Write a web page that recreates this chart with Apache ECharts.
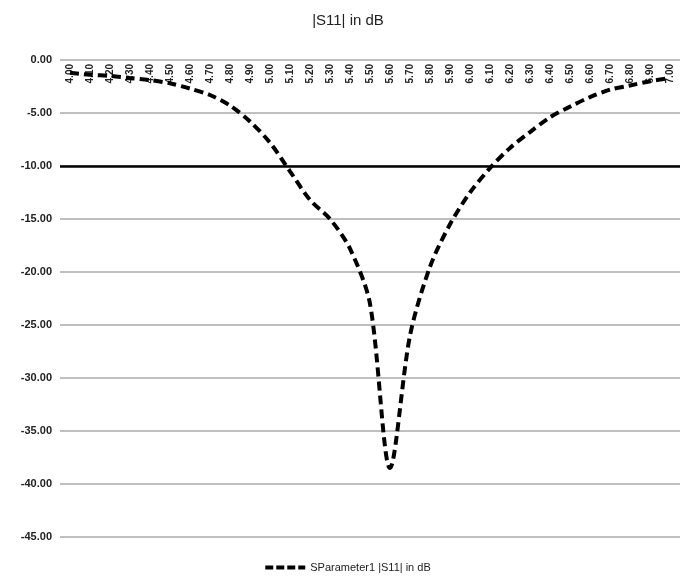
<!DOCTYPE html><html><head><meta charset="utf-8"><script src="https://cdn.jsdelivr.net/npm/echarts@6/dist/echarts.min.js"></script></head><body style="margin:0;background:#fff"><div id="c" style="width:696px;height:586px"></div><script>
const categories=[];for(let i=0;i<=30;i++)categories.push((4+i/10).toFixed(2));
const s11=[-1.2,-1.4,-1.5,-1.7,-1.9,-2.2,-2.7,-3.3,-4.3,-5.8,-7.8,-10.5,-13.2,-15,-17.8,-23,-38.5,-26,-19.5,-15.5,-12.5,-10.2,-8.3,-6.8,-5.4,-4.4,-3.5,-2.8,-2.4,-2.0,-1.7];
const threshold=-10;
const c=echarts.init(document.getElementById('c'));
c.setOption({
title:{text:'|S11| in dB',left:'center',top:8,textStyle:{fontFamily:'Liberation Sans',fontSize:15,fontWeight:'normal',color:'#222'}},
grid:{left:60,right:16,top:60,bottom:49},
legend:{bottom:8,itemWidth:40,itemHeight:6,icon:'path://M0,0h8v4h-8z M11,0h8v4h-8z M22,0h8v4h-8z M33,0h7v4h-7z',
 textStyle:{fontFamily:'Liberation Sans',fontSize:11,color:'#222'},data:['SParameter1 |S11| in dB']},
xAxis:{type:'category',data:categories,position:'top',axisLine:{show:false},axisTick:{show:false},
 axisLabel:{rotate:90,inside:true,margin:4,fontSize:10,fontWeight:'bold',color:'#222',fontFamily:'Liberation Sans',interval:0}},
yAxis:{type:'value',min:-45,max:0,interval:5,axisLabel:{formatter:v=>v.toFixed(2),fontSize:11,fontWeight:'bold',color:'#222',fontFamily:'Liberation Sans'},
 splitLine:{lineStyle:{color:'#aaa',width:1.5}},axisLine:{show:false},axisTick:{show:false}},
series:[{name:'SParameter1 |S11| in dB',type:'line',data:s11,smooth:0.3,showSymbol:false,
 lineStyle:{color:'#000',width:4,type:[9,5]},itemStyle:{color:'#000'},
 markLine:{silent:true,symbol:'none',label:{show:false},lineStyle:{color:'#000',width:2.5,type:'solid'},data:[{yAxis:threshold}]}}]
});
</script></body></html>
